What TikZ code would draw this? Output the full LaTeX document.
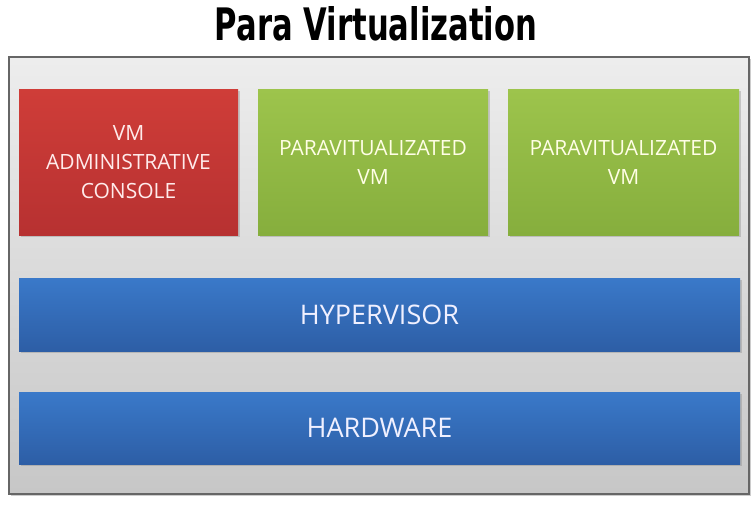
\documentclass[tikz,border=0pt]{standalone}
\usepackage{fontspec}
\setsansfont{Open Sans}
\newfontfamily\titlefont{DejaVu Sans}
\usetikzlibrary{shadows}

\definecolor{vmred}{HTML}{CF3D38}
\definecolor{vmredlow}{HTML}{B73131}
\definecolor{vmgreen}{HTML}{9DC44C}
\definecolor{vmgreenlow}{HTML}{86AE3D}
\definecolor{vmblue}{HTML}{3A79C9}
\definecolor{vmbluelow}{HTML}{2D5EA6}

\begin{document}
\begin{tikzpicture}[x=1pt, y=-1pt,
    layer/.style={inner sep=0pt, align=center, font=\sffamily\fontsize{21}{29}\selectfont,
      drop shadow={shadow xshift=1.5pt, shadow yshift=-2pt, opacity=0.35}},
    console/.style={layer, top color=vmred, bottom color=vmredlow, text=red!8},
    guest/.style={layer, top color=vmgreen, bottom color=vmgreenlow, text=yellow!10!white},
    bar/.style={layer, top color=vmblue, bottom color=vmbluelow, text=blue!6,
      font=\sffamily\fontsize{27}{32}\selectfont, minimum width=721pt, minimum height=73pt},
  ]
  \useasboundingbox (0,0) rectangle (756,506);
  % title
  \node[anchor=base, inner sep=0pt] (title) at (376,40)
    {\resizebox{322pt}{34pt}{\titlefont\bfseries Para Virtualization}};
  % outer frame
  \node[draw=black!60, line width=1.2pt, top color=black!7, bottom color=black!22,
    minimum width=740pt, minimum height=437pt, inner sep=0pt,
    drop shadow={shadow xshift=1.5pt, shadow yshift=-2pt, opacity=0.4}] (frame) at (379,275.5) {};
  % virtual machines
  \node[console, minimum width=219pt, minimum height=146pt] (admin) at (128.5,162)
    {VM\\ADMINISTRATIVE\\CONSOLE};
  \node[guest, minimum width=230pt, minimum height=146pt] (guestA) at (373,162)
    {PARAVITUALIZATED\\VM};
  \node[guest, minimum width=231pt, minimum height=146pt] (guestB) at (623.5,162)
    {PARAVITUALIZATED\\VM};
  % lower layers
  \node[bar] (hyper) at (379.5,314.5) {HYPERVISOR};
  \node[bar, minimum height=72pt] (hw) at (379.5,428) {HARDWARE};
\end{tikzpicture}
\end{document}
